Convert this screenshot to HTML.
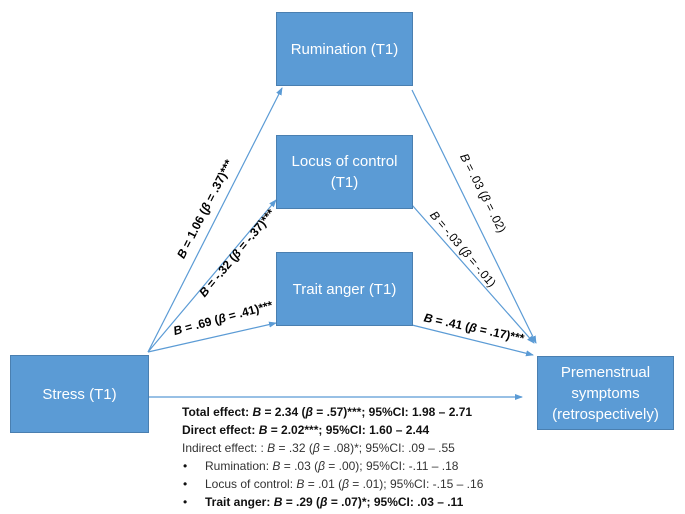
<!DOCTYPE html>
<html><head><style>
body{margin:0;width:685px;height:514px;background:#fff;position:relative;overflow:hidden;font-family:"Liberation Sans",sans-serif}
.b{position:absolute;background:#5b9bd5;border:1px solid #4a7fb0;color:#fff;display:flex;align-items:center;justify-content:center;text-align:center;font-size:15px;line-height:21px;box-sizing:border-box}
.t{position:absolute;font-size:12px;line-height:18px;color:#111;white-space:nowrap}
.r{position:absolute;font-size:12px;font-weight:bold;white-space:nowrap;transform-origin:center center}
.n{font-weight:normal}
</style></head><body>
<svg width="685" height="514" style="position:absolute;left:0;top:0">
<defs><marker id="a" markerWidth="8" markerHeight="8" refX="7" refY="4" orient="auto" markerUnits="userSpaceOnUse"><path d="M0,1 L8,4 L0,7 z" fill="#5b9bd5"/></marker></defs>
<g stroke="#5b9bd5" stroke-width="1.2" fill="none" marker-end="url(#a)">
<line x1="148" y1="352" x2="282" y2="88"/>
<line x1="148" y1="352" x2="276" y2="200"/>
<line x1="148" y1="352" x2="276" y2="323"/>
<line x1="148" y1="397" x2="522" y2="397"/>
<line x1="412" y1="90" x2="536" y2="343"/>
<line x1="412" y1="205" x2="534" y2="343"/>
<line x1="412" y1="325" x2="533" y2="355"/>
</g></svg>
<div class="b" style="left:276px;top:12px;width:137px;height:74px">Rumination (T1)</div>
<div class="b" style="left:276px;top:135px;width:137px;height:74px">Locus of control<br>(T1)</div>
<div class="b" style="left:276px;top:252px;width:137px;height:74px">Trait anger (T1)</div>
<div class="b" style="left:10px;top:355px;width:139px;height:78px">Stress (T1)</div>
<div class="b" style="left:537px;top:356px;width:137px;height:74px">Premenstrual<br>symptoms<br>(retrospectively)</div>
<div class="r" style="left:140px;top:202px;width:130px;text-align:center;transform:rotate(-63deg)"><i>B</i> = 1.06 (<i>β</i> = .37)***</div>
<div class="r" style="left:172px;top:246px;width:130px;text-align:center;transform:rotate(-50deg)"><i>B</i> = -.32 (<i>β</i> = -.37)***</div>
<div class="r" style="left:158px;top:311px;width:130px;text-align:center;transform:rotate(-15deg)"><i>B</i> = .69 (<i>β</i> = .41)***</div>
<div class="r n" style="left:428px;top:186px;width:110px;text-align:center;transform:rotate(63deg)"><i>B</i> = .03 (<i>β</i> = .02)</div>
<div class="r n" style="left:408px;top:242px;width:110px;text-align:center;transform:rotate(50deg)"><i>B</i> = -.03 (<i>β</i> = -.01)</div>
<div class="r" style="left:414px;top:321px;width:120px;text-align:center;transform:rotate(12deg)"><i>B</i> = .41 (<i>β</i> = .17)***</div>
<div class="t" style="left:182px;top:403px"><b>Total effect: <i>B</i> = 2.34 (<i>β</i> = .57)***; 95%CI: 1.98 – 2.71</b></div>
<div class="t" style="left:182px;top:421px"><b>Direct effect: <i>B</i> = 2.02***; 95%CI: 1.60 – 2.44</b></div>
<div class="t" style="left:182px;top:439px;color:#333">Indirect effect: : <i>B</i> = .32 (<i>β</i> = .08)*; 95%CI: .09 – .55</div>
<div class="t" style="left:183px;top:457px">•</div><div class="t" style="left:205px;top:457px;color:#333">Rumination: <i>B</i> = .03 (<i>β</i> = .00); 95%CI: -.11 – .18</div>
<div class="t" style="left:183px;top:475px">•</div><div class="t" style="left:205px;top:475px;color:#333">Locus of control: <i>B</i> = .01 (<i>β</i> = .01); 95%CI: -.15 – .16</div>
<div class="t" style="left:183px;top:493px">•</div><div class="t" style="left:205px;top:493px"><b>Trait anger: <i>B</i> = .29 (<i>β</i> = .07)*; 95%CI: .03 – .11</b></div>
</body></html>
